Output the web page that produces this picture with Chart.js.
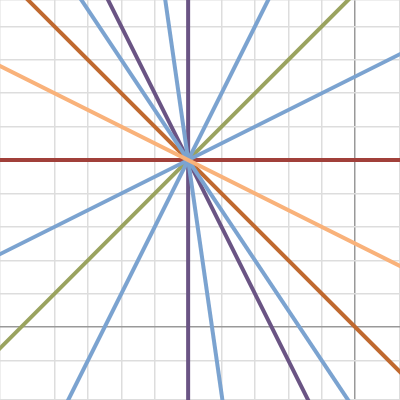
<!DOCTYPE html>
<html>
<head>
<style>html,body{margin:0;padding:0;background:#fff}#wrap{width:400px;height:400px}</style>
<script src="https://cdn.jsdelivr.net/npm/chart.js@4"></script>
</head>
<body>
<div id="wrap"><canvas id="graph"></canvas></div>
<script>
// Lines through the origin, given by slope (null = vertical line x = 0)
var slopes = [-0.5, 0.5, 2, -1.5, -7, 1, -1, -2, 0, null];
var colors = ['#f9b27a', '#7ba3d0', '#7ba3d0', '#7ba3d0', '#7ba3d0', '#9aa35f', '#c0692f', '#6a5484', '#a1403a', '#6a5484'];
var xRange = [-5.63, 6.34];
var yRange = [-7.18, 4.79];

var datasets = slopes.map(function (m, i) {
    var pts = m === null
        ? [{ x: 0, y: -20 }, { x: 0, y: 20 }]
        : [{ x: -20, y: -20 * m }, { x: 20, y: 20 * m }];
    return {
        data: pts,
        showLine: true,
        borderColor: colors[i],
        borderWidth: 4,
        pointRadius: 0,
        fill: false
    };
});

function gridColor(ctx) {
    var v = ctx.tick && ctx.tick.value;
    if (v === 0) return 'rgba(0,0,0,0)';
    return Math.abs(v) % 5 === 0 ? '#999' : '#ddd';
}

var scaleOpts = function (r) {
    return {
        type: 'linear', min: r[0], max: r[1],
        ticks: { display: false, stepSize: 1 },
        grid: { color: gridColor, lineWidth: 1.5, drawTicks: false },
        border: { display: false }
    };
};

new Chart(document.getElementById('graph'), {
    type: 'scatter',
    data: { datasets: datasets },
    options: {
        responsive: true, maintainAspectRatio: false, animation: false,
        layout: { padding: 0 },
        plugins: { legend: { display: false }, tooltip: { enabled: false } },
        scales: { x: scaleOpts(xRange), y: scaleOpts(yRange) }
    }
});
</script>
</body>
</html>
